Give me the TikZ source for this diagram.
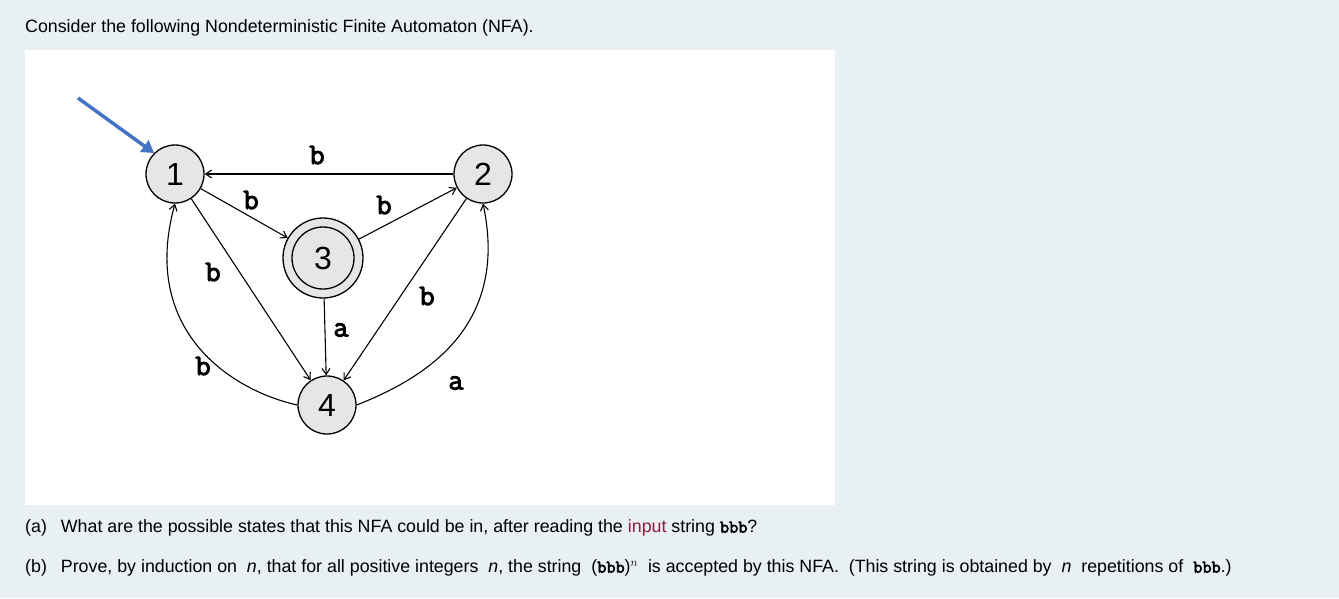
\documentclass[tikz,border=0pt]{standalone}
\usepackage{fontspec}
\setmainfont{Liberation Sans}
\newfontfamily\monob[FakeBold=3]{Latin Modern Mono}
\usetikzlibrary{arrows.meta}
\definecolor{bgc}{HTML}{E8F0F3}
\definecolor{stc}{HTML}{E6E6E6}
\definecolor{startc}{HTML}{4472C4}
\definecolor{redc}{HTML}{8E1B3A}
\newcommand{\mb}[1]{{\monob #1}}
\begin{document}
\begin{tikzpicture}[x=1pt,y=-1pt,
  st/.style={circle,draw=black,fill=stc,line width=1.3pt,minimum size=58pt,inner sep=0pt,font=\fontsize{32}{34}\selectfont},
  tr/.style={-{Straight Barb[length=6pt,width=8pt]},line width=1.1pt},
  lab/.style={font=\monob\fontsize{30}{30}\selectfont},
  txt/.style={anchor=west,font=\fontsize{17.8}{19}\selectfont,inner sep=0pt}]
\fill[bgc] (0,0) rectangle (1339,598);
\useasboundingbox (0,0) rectangle (1339,598);
\fill[white] (25,50) rectangle (835,505);
\node[txt] (title) at (25,28) {Consider the following Nondeterministic Finite Automaton (NFA).};
\node[st] (n1) at (175,174) {1};
\node[st] (n2) at (483,174) {2};
\node[st,minimum size=80pt] (n3) at (323,258) {};
\node[circle,draw=black,line width=1.3pt,minimum size=62pt,inner sep=0pt,font=\fontsize{32}{34}\selectfont] (n3i) at (323,258) {3};
\node[st] (n4) at (327,405) {4};
\coordinate (s0) at (78,98);
\draw[startc,line width=3.5pt,-{Triangle[length=12pt,width=14pt]}] (s0) -- (n1.north west);
\draw[tr] (n2) -- (n1);
\draw[tr] (n1) -- (n3);
\draw[tr] (n3) -- (n2);
\draw[tr] (n1) -- (n4);
\draw[tr] (n2) -- (n4);
\draw[tr] (n3) -- (n4);
\draw[tr] (n4.west) .. controls (230,390) and (140,330) .. (n1.south);
\draw[tr] (n4.east) .. controls (420,380) and (510,330) .. (n2.south);
\node[lab] (l0) at (317,155) {b};
\node[lab] (l1) at (251,200) {b};
\node[lab] (l2) at (384,205) {b};
\node[lab] (l3) at (213,272) {b};
\node[lab] (l4) at (427,296) {b};
\node[lab] (l5) at (341,330) {a};
\node[lab] (l6) at (203,366) {b};
\node[lab] (l7) at (456,383) {a};
\node[txt] (qa) at (25,528) {(a)\hspace{14pt}What are the possible states that this NFA could be in, after reading the \textcolor{redc}{input} string \mb{bbb}?};
\node[txt] (qb) at (25,568) {(b)\hspace{14pt}Prove, by induction on \ \textit{n}, that for all positive integers \ \textit{n}, the string \ (\mb{bbb})$^{n}$ \ is accepted by this NFA. \ (This string is obtained by \ \textit{n} \ repetitions of \ \mb{bbb}.)};
\end{tikzpicture}
\end{document}
